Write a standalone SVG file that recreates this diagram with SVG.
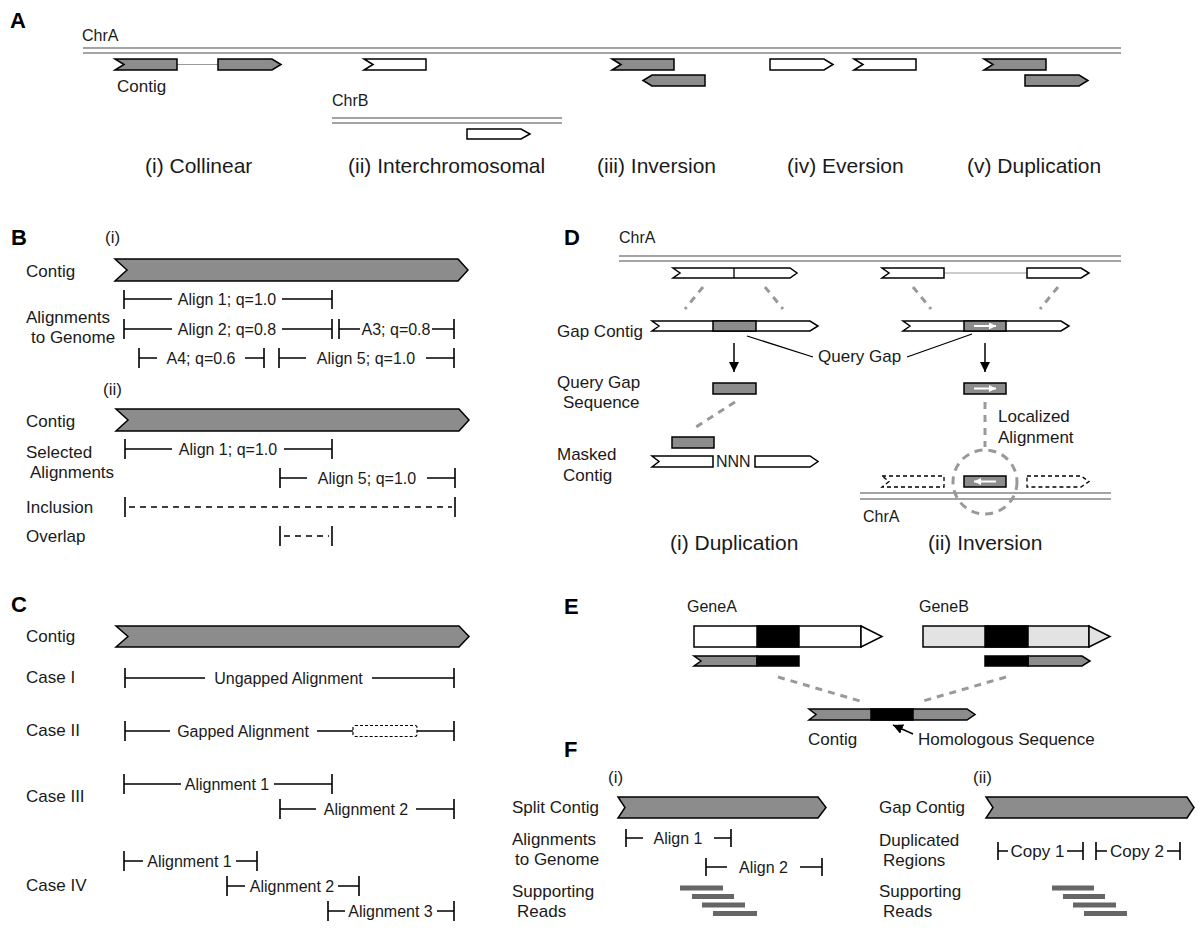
<svg xmlns="http://www.w3.org/2000/svg" width="1200" height="931" viewBox="0 0 1200 931">
<style>
text{font-family:"Liberation Sans",Arial,sans-serif;fill:#1a1a1a}
.lb{font-size:17px}
.al{font-size:16px}
.cap{font-size:21px}
.chr{font-size:16px}
.pl{font-size:22px;font-weight:bold;fill:#000}
.ctg{fill:#8c8c8c;stroke:#000;stroke-width:1.5;stroke-linejoin:miter}
.wh{fill:#fff;stroke:#000;stroke-width:1.5}
.dw{fill:#fff;stroke:#000;stroke-width:1.3;stroke-dasharray:4 3}
.blk{fill:#000;stroke:#000;stroke-width:1.5}
.lg{fill:#e3e3e3;stroke:#000;stroke-width:1.5}
.chrl{stroke:#a3a3a3;stroke-width:2;fill:none}
.thin{stroke:#999;stroke-width:1.2;fill:none}
.ln{stroke:#000;stroke-width:1.3;fill:none}
.tk{stroke:#000;stroke-width:1.6;fill:none}
.dl{stroke:#000;stroke-width:1.3;stroke-dasharray:6 5;fill:none}
.gd{stroke:#999;stroke-width:3;stroke-dasharray:7 6;fill:none}
.rd{fill:#666}
.arr{stroke:#000;stroke-width:1.5;fill:none}
.warr{stroke:#fff;stroke-width:2;fill:none}
</style>
<defs>
<marker id="ah" markerUnits="userSpaceOnUse" markerWidth="10" markerHeight="10" refX="10" refY="5" orient="auto"><path d="M0,0 L10,5 L0,10 Z" fill="#000"/></marker>
<marker id="ahw" markerUnits="userSpaceOnUse" markerWidth="7" markerHeight="7" refX="7" refY="3.5" orient="auto"><path d="M0,0 L7,3.5 L0,7 Z" fill="#fff"/></marker>
</defs>
<rect width="1200" height="931" fill="#fff"/>

<!-- Panel A -->
<g id="panelA">
<text class="pl" x="10" y="28">A</text>
<text class="chr" x="82" y="41">ChrA</text>
<line class="chrl" x1="83" y1="48" x2="1121" y2="48"/>
<line class="chrl" x1="83" y1="53" x2="1121" y2="53"/>
<g id="a-collinear">
<line class="thin" x1="177" y1="64.5" x2="218" y2="64.5"/>
<path class="ctg" d="M115,59 L177,59 L177,70 L115,70 L124,64.5 Z"/>
<path class="ctg" d="M218,59 L272,59 L281,64.5 L272,70 L218,70 Z"/>
<text class="lb" x="117" y="92">Contig</text>
<text class="cap" x="145" y="173">(i) Collinear</text>
</g>
<g id="a-interchrom">
<path class="wh" d="M364,59 L426,59 L426,70 L364,70 L373,64.5 Z"/>
<text class="chr" x="332" y="106">ChrB</text>
<line class="chrl" x1="332" y1="118" x2="562" y2="118"/>
<line class="chrl" x1="332" y1="123" x2="562" y2="123"/>
<path class="wh" d="M467,129 L521,129 L530,134 L521,139 L467,139 Z"/>
<text class="cap" x="348" y="173">(ii) Interchromosomal</text>
</g>
<g id="a-inversion">
<path class="ctg" d="M612,59 L674,59 L674,70 L612,70 L621,64.5 Z"/>
<path class="ctg" d="M652,75 L705,75 L705,86 L652,86 L643,80.5 Z"/>
<text class="cap" x="597" y="173">(iii) Inversion</text>
</g>
<g id="a-eversion">
<path class="wh" d="M770,59 L824,59 L833,64.5 L824,70 L770,70 Z"/>
<path class="wh" d="M854,59 L916,59 L916,70 L854,70 L863,64.5 Z"/>
<text class="cap" x="787" y="173">(iv) Eversion</text>
</g>
<g id="a-duplication">
<path class="ctg" d="M984,59 L1046,59 L1046,70 L984,70 L993,64.5 Z"/>
<path class="ctg" d="M1025,75 L1079,75 L1088,80.5 L1079,86 L1025,86 Z"/>
<text class="cap" x="967" y="173">(v) Duplication</text>
</g>
</g>

<!-- Panel B -->
<g id="panelB">
<text class="pl" x="11" y="245">B</text>
<text class="lb" x="105" y="243">(i)</text>
<path class="ctg" d="M115,259 L458,259 L468,270 L458,281 L115,281 L127,270 Z"/>
<text class="lb" x="26" y="277">Contig</text>
<text class="lb" x="26" y="323">Alignments</text>
<text class="lb" x="31" y="343">to Genome</text>
<g id="b-align1">
<path class="tk" d="M124,290V309M332,290V309"/><path class="ln" d="M124,299H172M282,299H332"/>
<text class="al" x="227" y="305" text-anchor="middle">Align 1; q=1.0</text>
</g>
<g id="b-align2">
<path class="tk" d="M124,319V339M332,319V339"/><path class="ln" d="M124,329H172M282,329H332"/>
<text class="al" x="227" y="335" text-anchor="middle">Align 2; q=0.8</text>
</g>
<g id="b-a3">
<path class="tk" d="M339,319V339M454,319V339"/><path class="ln" d="M339,329H360M432,329H454"/>
<text class="al" x="396" y="335" text-anchor="middle">A3; q=0.8</text>
</g>
<g id="b-a4">
<path class="tk" d="M139,348V368M264,348V368"/><path class="ln" d="M139,358H157M245,358H264"/>
<text class="al" x="201" y="364" text-anchor="middle">A4; q=0.6</text>
</g>
<g id="b-align5">
<path class="tk" d="M279,348V368M454,348V368"/><path class="ln" d="M279,358H306M426,358H454"/>
<text class="al" x="366" y="364" text-anchor="middle">Align 5; q=1.0</text>
</g>
<text class="lb" x="103" y="395">(ii)</text>
<path class="ctg" d="M116,409 L459,409 L469,420 L459,431 L116,431 L128,420 Z"/>
<text class="lb" x="26" y="427">Contig</text>
<text class="lb" x="26" y="458">Selected</text>
<text class="lb" x="30" y="478">Alignments</text>
<g id="b-sel1">
<path class="tk" d="M125,439V459M332,439V459"/><path class="ln" d="M125,449H172M284,449H332"/>
<text class="al" x="228" y="455" text-anchor="middle">Align 1; q=1.0</text>
</g>
<g id="b-sel5">
<path class="tk" d="M280,468V488M455,468V488"/><path class="ln" d="M280,478H307M427,478H455"/>
<text class="al" x="367" y="484" text-anchor="middle">Align 5; q=1.0</text>
</g>
<text class="lb" x="26" y="513">Inclusion</text>
<g id="b-inclusion">
<path class="tk" d="M125,497V517M455,497V517"/><path class="dl" d="M129,507H452"/>
</g>
<text class="lb" x="26" y="542">Overlap</text>
<g id="b-overlap">
<path class="tk" d="M280,526V546M332,526V546"/><path class="dl" d="M284,536H329"/>
</g>
</g>

<!-- Panel C -->
<g id="panelC">
<text class="pl" x="11" y="612">C</text>
<path class="ctg" d="M116,626 L459,626 L469,636.5 L459,647 L116,647 L128,636.5 Z"/>
<text class="lb" x="26" y="642">Contig</text>
<text class="lb" x="26" y="683">Case I</text>
<g id="c-case1">
<path class="tk" d="M125,668V688M454,668V688"/><path class="ln" d="M125,678H205M372,678H454"/>
<text class="al" x="288.5" y="684" text-anchor="middle">Ungapped Alignment</text>
</g>
<text class="lb" x="26" y="736">Case II</text>
<g id="c-case2">
<path class="tk" d="M125,721V741M454,721V741"/><path class="ln" d="M125,731H170M317,731H353M417,731H454"/>
<rect x="353" y="725.5" width="64" height="11" rx="2" class="dl" style="stroke-dasharray:3 2;stroke-width:1.2"/>
<text class="al" x="243" y="737" text-anchor="middle">Gapped Alignment</text>
</g>
<text class="lb" x="26" y="802">Case III</text>
<g id="c-case3">
<path class="tk" d="M124,774V794M332,774V794"/><path class="ln" d="M124,784H181M274,784H332"/>
<text class="al" x="227" y="790" text-anchor="middle">Alignment 1</text>
<path class="tk" d="M280,799V819M454,799V819"/><path class="ln" d="M280,809H316M416,809H454"/>
<text class="al" x="366" y="815" text-anchor="middle">Alignment 2</text>
</g>
<text class="lb" x="26" y="891">Case IV</text>
<g id="c-case4">
<path class="tk" d="M124,851V871M257,851V871"/><path class="ln" d="M124,861H143M236,861H257"/>
<text class="al" x="189.5" y="867" text-anchor="middle">Alignment 1</text>
<path class="tk" d="M227,876V896M359,876V896"/><path class="ln" d="M227,886H245M338,886H359"/>
<text class="al" x="292" y="892" text-anchor="middle">Alignment 2</text>
<path class="tk" d="M328,901V921M454,901V921"/><path class="ln" d="M328,911H345M437,911H454"/>
<text class="al" x="390.5" y="917" text-anchor="middle">Alignment 3</text>
</g>
</g>

<!-- Panel D -->
<g id="panelD">
<text class="pl" x="564" y="245">D</text>
<text class="chr" x="619" y="243">ChrA</text>
<line class="chrl" x1="619" y1="256" x2="1121" y2="256"/>
<line class="chrl" x1="619" y1="261" x2="1121" y2="261"/>
<g id="d-top-i">
<path class="wh" d="M673,268 L790,268 L797,273 L790,278 L673,278 L680,273 Z"/>
<line class="ln" x1="734" y1="268" x2="734" y2="278"/>
</g>
<text class="lb" x="557" y="337">Gap Contig</text>
<g id="d-gap-i">
<path class="wh" d="M652,321 L810,321 L818,326 L810,331 L652,331 L659,326 Z"/>
<rect class="ctg" x="713" y="321" width="43" height="10"/>
</g>
<text class="lb" x="818" y="362">Query Gap</text>
<text class="lb" x="557" y="388">Query Gap</text>
<text class="lb" x="563" y="408">Sequence</text>
<g id="d-qgs-i"><rect class="ctg" x="713" y="383" width="43" height="11"/></g>
<text class="lb" x="557" y="460">Masked</text>
<text class="lb" x="563" y="481">Contig</text>
<g id="d-masked">
<rect class="ctg" x="672" y="437" width="42" height="11"/>
<path class="wh" d="M652,456 L713,456 L713,467 L652,467 L659,461.5 Z"/>
<text class="al" x="716" y="467">NNN</text>
<path class="wh" d="M755,456 L810,456 L818,461.5 L810,467 L755,467 Z"/>
</g>
<text class="cap" x="670" y="550">(i) Duplication</text>
<g id="d-top-ii">
<line class="thin" x1="944" y1="273" x2="1027" y2="273"/>
<path class="wh" d="M882,268 L944,268 L944,278 L882,278 L889,273 Z"/>
<path class="wh" d="M1027,268 L1081,268 L1089,273 L1081,278 L1027,278 Z"/>
</g>
<g id="d-gap-ii">
<path class="wh" d="M903,321 L1061,321 L1069,326 L1061,331 L903,331 L910,326 Z"/>
<rect class="ctg" x="964" y="321" width="42" height="10"/>
<line class="warr" x1="974" y1="326" x2="996" y2="326" marker-end="url(#ahw)"/>
</g>
<g id="d-qgs-ii">
<rect class="ctg" x="964" y="383" width="42" height="11"/>
<line class="warr" x1="974" y1="388.5" x2="996" y2="388.5" marker-end="url(#ahw)"/>
</g>
<text class="lb" x="998" y="422">Localized</text>
<text class="lb" x="998" y="443">Alignment</text>
<g id="d-chra-low">
<path class="dw" d="M882,476 L944,476 L944,487 L882,487 L889,481.5 Z"/>
<path class="dw" d="M1027,476 L1081,476 L1089,481.5 L1081,487 L1027,487 Z"/>
<rect class="ctg" x="964" y="476" width="42" height="11"/>
<line class="warr" x1="996" y1="481.5" x2="974" y2="481.5" marker-end="url(#ahw)"/>
<line class="chrl" x1="860" y1="493" x2="1111" y2="493"/>
<line class="chrl" x1="860" y1="499" x2="1111" y2="499"/>
<circle cx="985" cy="482" r="32" class="gd" style="stroke-dasharray:8 6"/>
<text class="chr" x="863" y="522">ChrA</text>
</g>
<text class="cap" x="928" y="550">(ii) Inversion</text>
</g>

<!-- Panel E -->
<g id="panelE">
<text class="pl" x="564" y="614">E</text>
<text class="chr" x="687" y="612">GeneA</text>
<g id="e-geneA">
<rect class="wh" x="694" y="626" width="167" height="21"/>
<rect class="blk" x="757" y="626" width="42" height="21"/>
<path class="wh" d="M861,626 L882,636.5 L861,647 Z"/>
<path class="ctg" d="M694,656 L757,656 L757,666 L694,666 L701,661 Z"/>
<rect class="blk" x="757" y="656" width="42" height="10"/>
</g>
<text class="chr" x="919" y="612">GeneB</text>
<g id="e-geneB">
<rect class="lg" x="923" y="626" width="166" height="21"/>
<rect class="blk" x="985" y="626" width="43" height="21"/>
<path class="lg" d="M1089,626 L1110,636.5 L1089,647 Z"/>
<path class="ctg" d="M1028,656 L1082,656 L1090,661 L1082,666 L1028,666 Z"/>
<rect class="blk" x="985" y="656" width="43" height="10"/>
</g>
<g id="e-contig">
<path class="ctg" d="M809,709 L967,709 L975,714.5 L967,720 L809,720 L816,714.5 Z"/>
<rect class="blk" x="871" y="709" width="42" height="11"/>
<text class="lb" x="808" y="745">Contig</text>
<text class="lb" x="918" y="745">Homologous Sequence</text>
</g>
</g>

<!-- Panel F -->
<g id="panelF">
<text class="pl" x="564" y="757">F</text>
<text class="lb" x="608" y="783">(i)</text>
<text class="lb" x="512" y="813">Split Contig</text>
<path class="ctg" d="M618,797 L818,797 L826,807.5 L818,818 L618,818 L625,807.5 Z"/>
<text class="lb" x="512" y="845">Alignments</text>
<text class="lb" x="515" y="865">to Genome</text>
<g id="f-align1">
<path class="tk" d="M626,829V847M731,829V847"/><path class="ln" d="M626,838H643M714,838H731"/>
<text class="al" x="678" y="844" text-anchor="middle">Align 1</text>
</g>
<g id="f-align2">
<path class="tk" d="M706,858V876M822,858V876"/><path class="ln" d="M706,867H727M800,867H822"/>
<text class="al" x="763.5" y="873" text-anchor="middle">Align 2</text>
</g>
<text class="lb" x="512" y="897">Supporting</text>
<text class="lb" x="517" y="917">Reads</text>
<g id="f-reads-i">
<rect class="rd" x="680" y="885.5" width="43" height="5"/>
<rect class="rd" x="692" y="894" width="42" height="5"/>
<rect class="rd" x="702" y="902.5" width="43" height="5"/>
<rect class="rd" x="713" y="911" width="44" height="5"/>
</g>
<text class="lb" x="973" y="783">(ii)</text>
<text class="lb" x="879" y="813">Gap Contig</text>
<path class="ctg" d="M986,797 L1187,797 L1194,807.5 L1187,818 L986,818 L993,807.5 Z"/>
<text class="lb" x="879" y="846">Duplicated</text>
<text class="lb" x="883" y="866">Regions</text>
<g id="f-copy1">
<path class="tk" d="M998,842V860M1083,842V860"/><path class="ln" d="M998,851H1008M1067,851H1083"/>
<text class="lb" x="1037.5" y="857" text-anchor="middle">Copy 1</text>
</g>
<g id="f-copy2">
<path class="tk" d="M1096,842V860M1180,842V860"/><path class="ln" d="M1096,851H1107M1167,851H1180"/>
<text class="lb" x="1137" y="857" text-anchor="middle">Copy 2</text>
</g>
<text class="lb" x="879" y="897">Supporting</text>
<text class="lb" x="883" y="917">Reads</text>
<g id="f-reads-ii">
<rect class="rd" x="1052" y="885.5" width="42" height="5"/>
<rect class="rd" x="1063" y="894" width="42" height="5"/>
<rect class="rd" x="1073" y="902.5" width="43" height="5"/>
<rect class="rd" x="1084" y="911" width="43" height="5"/>
</g>
</g>

<!-- Connectors -->
<g id="connectors">
<line class="gd" x1="703" y1="287" x2="685" y2="309"/>
<line class="gd" x1="765" y1="287" x2="783" y2="309"/>
<line class="gd" x1="913" y1="287" x2="931" y2="309"/>
<line class="gd" x1="1058" y1="287" x2="1040" y2="309"/>
<line class="ln" x1="747" y1="336" x2="813" y2="357"/>
<line class="ln" x1="907" y1="357" x2="972" y2="334"/>
<line class="arr" x1="734" y1="343" x2="734" y2="372" marker-end="url(#ah)"/>
<line class="arr" x1="985" y1="343" x2="985" y2="372" marker-end="url(#ah)"/>
<line class="gd" x1="735" y1="402" x2="693" y2="429"/>
<line class="gd" x1="985" y1="402" x2="985" y2="447"/>
<line class="gd" x1="778" y1="677" x2="860" y2="701"/>
<line class="gd" x1="1006" y1="677" x2="923" y2="701"/>
<line class="arr" x1="913" y1="734" x2="893" y2="725" marker-end="url(#ah)"/>
</g>
</svg>
